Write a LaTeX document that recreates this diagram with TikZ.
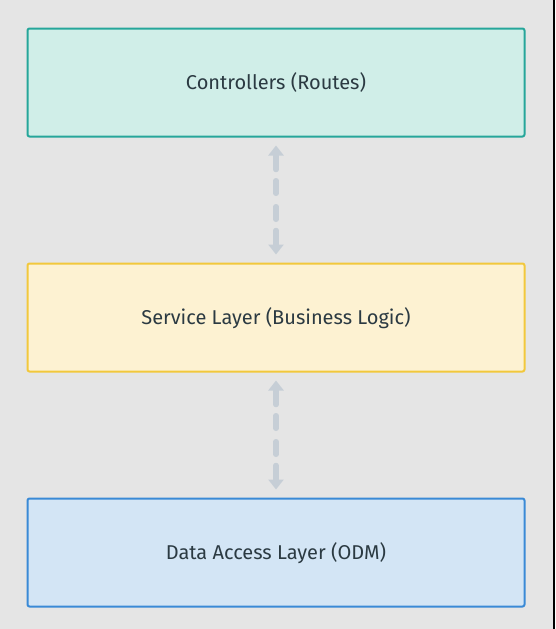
\documentclass[tikz,border=0pt]{standalone}
\usepackage{fontspec}
\setmainfont{Fira Sans}
\usetikzlibrary{arrows.meta}
\definecolor{bgray}{HTML}{E5E5E5}
\definecolor{ctrlfill}{HTML}{D0EEE8}
\definecolor{ctrldraw}{HTML}{26A69A}
\definecolor{svcfill}{HTML}{FDF2D2}
\definecolor{svcdraw}{HTML}{F2C83C}
\definecolor{dalfill}{HTML}{D3E5F5}
\definecolor{daldraw}{HTML}{3A8AD6}
\definecolor{linkgray}{HTML}{C6CED6}
\definecolor{txt}{HTML}{2B3A42}
\tikzset{
  layer/.style={rectangle, rounded corners=2pt, line width=2pt, minimum width=497pt,
    minimum height=108pt, text=txt, text height=15pt, text depth=2pt,
    font=\fontsize{20}{24}\selectfont},
  linkhead/.style={linkgray, line width=5.5pt, line cap=round,
    -{Triangle[width=15pt,length=10pt,line cap=butt]}, shorten >=8pt, shorten <=93pt},
  linkdash/.style={linkgray, line width=5.5pt, line cap=round, dash pattern=on 12.5pt off 13.5pt,
    shorten <=43.25pt, shorten >=43.25pt}
}
\begin{document}
\begin{tikzpicture}[x=1pt, y=-1pt, line join=round]
	\fill[bgray] (0,0) rectangle (555,629);
	\fill[black] (553,0) rectangle (555,629);
	\useasboundingbox (0,0) rectangle (555,629);
	\node[layer, fill=ctrlfill, draw=ctrldraw] (ctrl) at (276,82.5) {Controllers (Routes)};
	\node[layer, fill=svcfill, draw=svcdraw] (svc) at (276,317.5) {Service Layer (Business Logic)};
	\node[layer, fill=dalfill, draw=daldraw] (dal) at (276,552.5) {Data Access Layer (ODM)};
	% two-way links
	\draw[linkhead] (svc.north) -- (ctrl.south);
	\draw[linkdash] (ctrl.south) -- (svc.north);
	\draw[linkhead] (ctrl.south) -- (svc.north);
	\draw[linkhead] (dal.north) -- (svc.south);
	\draw[linkdash] (svc.south) -- (dal.north);
	\draw[linkhead] (svc.south) -- (dal.north);
\end{tikzpicture}
\end{document}
